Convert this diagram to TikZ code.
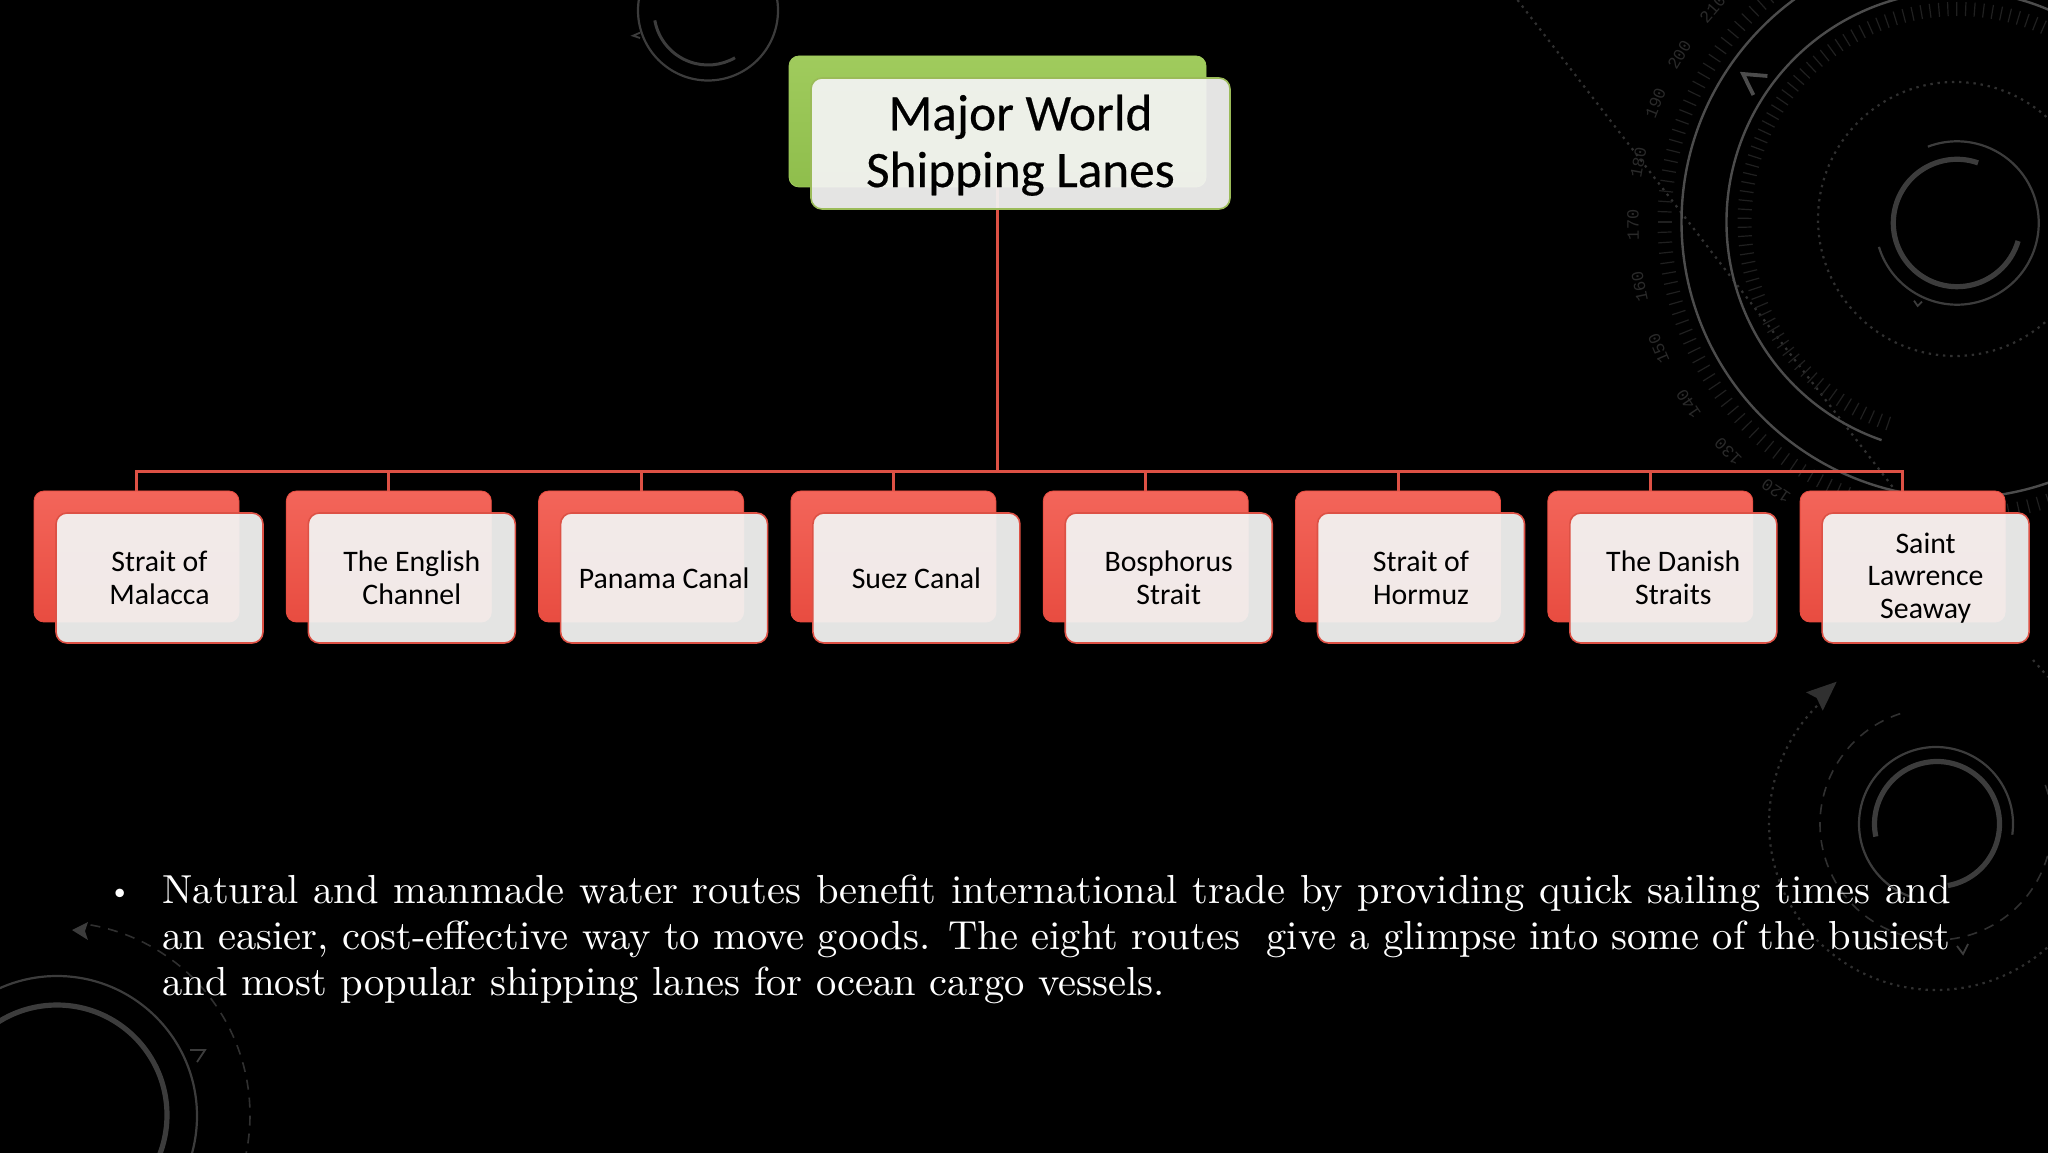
\documentclass[tikz,border=0pt]{standalone}
\usepackage{fontspec}
\newfontfamily\boxfont{Carlito}
\newfontfamily\titlefont{Carlito}[FakeBold=0.4]
\newfontfamily\dialfont{Liberation Mono}
\definecolor{ln}{HTML}{DD5145}
\definecolor{rgA}{HTML}{F3655A}
\definecolor{rgB}{HTML}{E84C40}
\definecolor{ggA}{HTML}{A0CB5D}
\definecolor{ggB}{HTML}{8FBE4C}
\definecolor{gbd}{HTML}{9BBB59}
\definecolor{faceF}{HTML}{F3F3F2}
\definecolor{bgA}{HTML}{4C4C4C}
\definecolor{bgB}{HTML}{3C3C3C}
\definecolor{bgC}{HTML}{303030}
\definecolor{bgD}{HTML}{202020}
\definecolor{bgE}{HTML}{2A2A2A}
\tikzset{
 x=0.5pt,y=0.5pt,
 backred/.style={rounded corners=5pt,minimum width=102.5pt,minimum height=65.5pt,inner sep=0pt,top color=rgA,bottom color=rgB,draw=rgB,line width=0.4pt},
 backgreen/.style={rounded corners=5pt,minimum width=208.5pt,minimum height=65.5pt,inner sep=0pt,top color=ggA,bottom color=ggB,draw=ggA,line width=0.4pt},
 frontred/.style={rounded corners=5.5pt,minimum width=103.5pt,minimum height=65pt,inner sep=0pt,fill=faceF,fill opacity=0.94,text opacity=1,draw=ln,draw opacity=1,line width=0.8pt,text=black,align=center,font=\boxfont\fontsize{14.9}{16.3}\selectfont},
 frontgreen/.style={rounded corners=5.5pt,minimum width=209.5pt,minimum height=65.5pt,inner sep=0pt,fill=faceF,fill opacity=0.94,text opacity=1,draw=gbd,draw opacity=1,line width=0.8pt,text=black,align=center,font=\titlefont\fontsize{25.6}{28.4}\selectfont},
 conn/.style={draw=ln,line width=1.5pt},
 ringA/.style={draw=bgA,line width=1.2pt},
 ringB/.style={draw=bgB,line width=1.1pt},
 ringT/.style={draw=bgB,line width=2.6pt},
 tick/.style={draw=bgD,line width=0.6pt},
 dotty/.style={draw=bgC,line width=1.1pt,dash pattern=on 1.2pt off 2.4pt},
 dashy/.style={draw=bgC,line width=0.8pt,dash pattern=on 5pt off 4pt},
 chev/.style={draw=bgB,line width=0.9pt},
 dial/.style={text=bgE,font=\dialfont\fontsize{8.5}{8.5}\selectfont,inner sep=0pt}
}
\begin{document}
\begin{tikzpicture}
\useasboundingbox (0,0) rectangle (2048,1152);
\fill[black] (-10,-10) rectangle (2058,1162);
\begin{scope}
\clip (-10,-10) rectangle (2058,1152);
% top right dial
\draw[dotty] (1517.5,1152) -- (1905,649);
\draw[ringA] (1957.5,930) circle[radius=276];
\draw[ringA] (1957.5,930) ++(250.8:231) arc[start angle=250.8,end angle=60,radius=231];
\begin{scope}[shift={(1957.5,930)}]
 \foreach \a in {0,2,...,358} \draw[tick] (\a:286) -- (\a:300);
 \foreach \v/\a in {120/236,130/225,140/214,150/203,160/191.5,170/180.5,180/169.5,190/158.5,200/149,210/139}
  \node[dial,rotate=\a-90] (d\v) at (\a:324.5) {\v};
 \foreach \a in {251,248.6,...,60} \draw[tick] (\a:206) -- (\a:220);
\end{scope}
\draw[dotty] (1955,933) circle[radius=137];
\draw[ringB] (1957,929) ++(197:81.7) arc[start angle=197,end angle=470.9,radius=81.7];
\draw[ringT] (1957,929) ++(70.7:63.7) arc[start angle=70.7,end angle=343.6,radius=63.7];
\draw[draw=bgA,line width=1.9pt] (1767.4,1076) -- (1743,1078) -- (1753.4,1057);
\draw[chev] (1914,851.3) -- (1917.7,846) -- (1922,850.3);
% bottom right dial
\draw[ringB] (1936,328) ++(-8:77) arc[start angle=-8,end angle=251.6,radius=77];
\draw[ringT] (1937,328) ++(191.6:62.5) arc[start angle=191.6,end angle=-80,radius=62.5];
\draw[dashy] (1936,328) ++(108:116) arc[start angle=108,end angle=381,radius=116];
\draw[dotty] (1936,329) ++(133:167) arc[start angle=133,end angle=330,radius=167];
\fill[bgC] (1836.7,470.3) -- (1806,459.7) -- (1816.7,454) -- (1822.7,441.3) -- cycle;
\draw[dotty] (2033,492) -- (2048,475);
\draw[chev] (1957,206) -- (1963,198) -- (1968,208);
% bottom left dial
\draw[ringB] (57,36) circle[radius=140];
\draw[ringT] (57,37) circle[radius=110];
\draw[dashy] (57,37) ++(80:193) arc[start angle=80,end angle=-15,radius=193];
\fill[bgB] (72,222) -- (88,230) -- (85,221) -- (88,212) -- cycle;
\draw[chev] (190,102) -- (205,102) -- (197,90);
% top dial
\draw[ringB] (708,1141.5) circle[radius=70];
\draw[draw=bgB,line width=1.5pt] (708,1141) ++(190:54) arc[start angle=190,end angle=300,radius=54];
\draw[chev] (640,1119.3) -- (633,1116.3) -- (640,1114);
\end{scope}
% diagram
\node[backgreen] (rootback) at (997.5,1030.5) {};
\foreach \i in {1,...,8}{
 \pgfmathsetmacro{\bx}{136.5+252.3*(\i-1)}
 \node[backred] (b\i) at (\bx,595.5) {};
}
\coordinate (bus) at (998,680);
\foreach \i in {1,...,8}
 \draw[conn] (rootback.south) -- (rootback.south |- bus) -| (b\i.north);
\node[frontgreen] (root) at (1020.5,1008.5) {\rule{0pt}{19.6pt}Major World\\Shipping Lanes};
\foreach \i/\t in {1/{Strait of\\Malacca},2/{The English\\Channel},3/{Panama Canal},4/{Suez Canal},5/{Bosphorus\\Strait},6/{Strait of\\Hormuz},7/{The Danish\\Straits},8/{Saint\\Lawrence\\Seaway}}{
 \pgfmathsetmacro{\fx}{159.5+252.3*(\i-1)}
 \node[frontred] (f\i) at (\fx,574) {\t};
}
\node[text=white,inner sep=0pt,anchor=base,font=\fontsize{19}{19}\selectfont] (bullet) at (120,248.5) {\textbullet};
\node[text=white,inner sep=0pt,anchor=base west] (body) at (162,248.5) {\scalebox{2.026}{\parbox[t]{441.3pt}{\fontsize{10}{11.35}\selectfont Natural and manmade water routes benefit international trade by providing quick sailing times and\linebreak an easier, cost-effective way to move goods. The eight routes\ \ give a glimpse into some of the busiest\linebreak and most popular shipping lanes for ocean cargo vessels.}}};
\end{tikzpicture}
\end{document}
